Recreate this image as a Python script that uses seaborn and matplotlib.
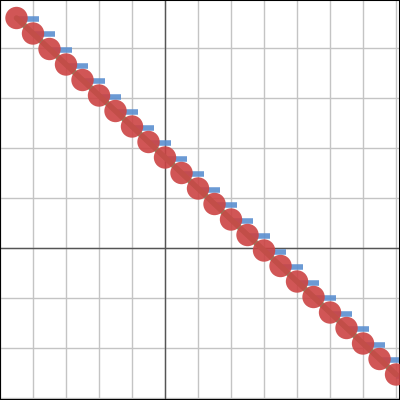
import matplotlib
matplotlib.use("Agg")
import matplotlib.pyplot as plt
import seaborn as sns
import numpy as np

x = [-4.5,-4.0,-3.5,-3.0,-2.5,-2.0,-1.5,-1.0,-0.5,0.0,0.5,1.0,1.5,2.0,2.5,3.0,3.5,4.0,4.5,5.0,5.5,6.0,6.5,7.0]
y = [4.60,4.29,3.98,3.67,3.36,3.05,2.74,2.43,2.12,1.81,1.50,1.19,0.88,0.57,0.26,-0.05,-0.36,-0.67,-0.98,-1.29,-1.60,-1.91,-2.22,-2.53]
dash_len = [0.68]*len(x)

sns.set_style("white")
fig = plt.figure(figsize=(4,4), dpi=100)
ax = fig.add_axes([0,0,1,1])
ax.set_xlim(-5, 7.12)
ax.set_ylim(-3.04, 4.96)
ax.set_xticks(np.arange(-5, 7.2, 1))
ax.set_yticks(np.arange(-3, 5, 1))
ax.grid(True, color="#c4c4c4", lw=1)
ax.axhline(0, color="#555555", lw=1)
ax.axvline(0, color="#555555", lw=1)
ax.tick_params(length=0, labelbottom=False, labelleft=False)
for s in ax.spines.values():
    s.set_color("black"); s.set_linewidth(1.5)
ax.hlines([v - 0.02 for v in y], x, [a + d for a, d in zip(x, dash_len)], color="#5b8fd0", lw=4, alpha=0.9, zorder=2)
sns.lineplot(x=x, y=y, ax=ax, color="#6aa870", lw=4, zorder=3)
sns.scatterplot(x=x, y=y, ax=ax, color="#cc4444", s=260, edgecolor="none", alpha=0.9, zorder=4)
fig.savefig("out.png", dpi=100)
